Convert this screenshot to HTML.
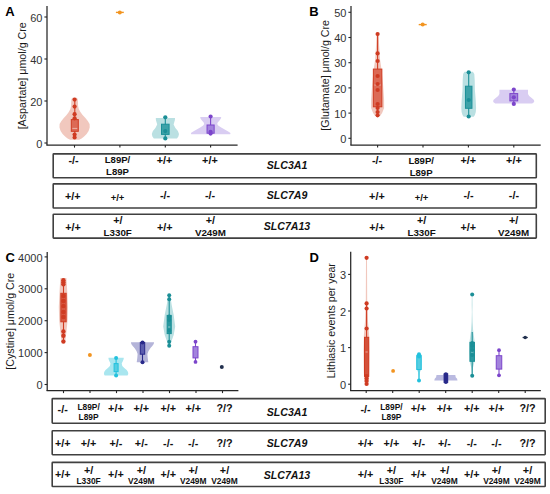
<!DOCTYPE html>
<html><head><meta charset="utf-8"><style>
html,body{margin:0;padding:0;background:#fff;width:550px;height:494px;overflow:hidden;position:relative;font-family:"Liberation Sans", sans-serif;}
</style></head><body>
<svg width="550" height="494" viewBox="0 0 550 494" style="position:absolute;left:0;top:0">
<g font-family='"Liberation Sans", sans-serif'>
<text x="5.2" y="15.8" font-size="13" font-weight="bold" fill="#000">A</text>
<line x1="47" y1="6" x2="47" y2="145.29999999999998" stroke="#262626" stroke-width="1.25"/>
<line x1="44.4" y1="143.0" x2="47" y2="143.0" stroke="#262626" stroke-width="1.1"/>
<text x="42.4" y="147.60" text-anchor="end" font-size="11" fill="#333333">0</text>
<line x1="44.4" y1="101.0" x2="47" y2="101.0" stroke="#262626" stroke-width="1.1"/>
<text x="42.4" y="105.60" text-anchor="end" font-size="11" fill="#333333">20</text>
<line x1="44.4" y1="59.0" x2="47" y2="59.0" stroke="#262626" stroke-width="1.1"/>
<text x="42.4" y="63.60" text-anchor="end" font-size="11" fill="#333333">40</text>
<line x1="44.4" y1="17.0" x2="47" y2="17.0" stroke="#262626" stroke-width="1.1"/>
<text x="42.4" y="21.60" text-anchor="end" font-size="11" fill="#333333">60</text>
<line x1="46.4" y1="145" x2="237.6" y2="145" stroke="#262626" stroke-width="1.25"/>
<line x1="74.5" y1="145" x2="74.5" y2="147.6" stroke="#262626" stroke-width="1.1"/>
<line x1="119.9" y1="145" x2="119.9" y2="147.6" stroke="#262626" stroke-width="1.1"/>
<line x1="165.3" y1="145" x2="165.3" y2="147.6" stroke="#262626" stroke-width="1.1"/>
<line x1="210.6" y1="145" x2="210.6" y2="147.6" stroke="#262626" stroke-width="1.1"/>
<text transform="translate(25.7,75.8) rotate(-90)" text-anchor="middle" font-size="10.7" fill="#1a1a1a">[Aspartate] μmol/g Cre</text>
<path d="M72.60,97.80 L71.50,99.00 L71.20,102.00 L71.10,106.00 L70.40,109.00 L68.80,112.00 L66.60,115.00 L63.80,118.00 L61.40,121.00 L59.60,124.00 L59.50,127.50 L60.60,131.00 L62.60,134.00 L65.10,136.50 L67.60,138.50 L70.10,139.80 L79.10,139.80 L81.60,138.50 L84.10,136.50 L86.60,134.00 L88.60,131.00 L89.70,127.50 L89.60,124.00 L87.80,121.00 L85.40,118.00 L82.60,115.00 L80.40,112.00 L78.80,109.00 L78.10,106.00 L78.00,102.00 L77.70,99.00 L76.60,97.80Z" fill="#f1c8be" fill-opacity="1.0"/>
<line x1="74.8" y1="99.6" x2="74.8" y2="137.5" stroke="#cf3b22" stroke-width="1.1"/>
<rect x="71.30" y="119.6" width="7.0" height="11.70" fill="#dc6a55" stroke="#cf3b22" stroke-width="1.0"/>
<line x1="72.30" y1="128.4" x2="77.30" y2="128.4" stroke="#ffffff" stroke-opacity="0.6" stroke-width="0.8"/>
<circle cx="74.6" cy="99.6" r="2.1" fill="#cf3b22"/>
<circle cx="74.6" cy="106.6" r="2.1" fill="#cf3b22"/>
<circle cx="74.6" cy="114.2" r="2.1" fill="#cf3b22"/>
<circle cx="74.6" cy="118.3" r="2.1" fill="#cf3b22"/>
<circle cx="74.6" cy="134.5" r="2.1" fill="#cf3b22"/>
<circle cx="74.6" cy="137.5" r="2.1" fill="#cf3b22"/>
<line x1="115.9" y1="12.4" x2="123.8" y2="12.4" stroke="#f29420" stroke-width="1.4"/>
<circle cx="119.8" cy="12.4" r="2.0" fill="#f29420"/>
<path d="M155.80,118.00 L155.90,120.00 L157.20,124.50 L155.40,128.00 L152.90,131.00 L151.80,134.00 L152.40,136.50 L153.80,138.40 L177.00,138.40 L178.40,136.50 L179.00,134.00 L177.90,131.00 L175.40,128.00 L173.60,124.50 L174.90,120.00 L175.00,118.00Z" fill="#bae0e2" fill-opacity="1.0"/>
<line x1="165.3" y1="117.3" x2="165.3" y2="138.4" stroke="#1b8f97" stroke-width="1.1"/>
<rect x="161.50" y="124.2" width="7.6" height="10.20" fill="#3ca2a8" stroke="#1b8f97" stroke-width="1.0"/>
<circle cx="165.3" cy="117.3" r="2.1" fill="#1b8f97"/>
<circle cx="165.3" cy="131.1" r="2.1" fill="#1b8f97"/>
<circle cx="165.3" cy="138.4" r="2.1" fill="#1b8f97"/>
<path d="M200.20,117.00 L200.50,118.50 L201.90,120.50 L203.70,122.50 L204.20,124.00 L203.20,125.50 L200.20,127.50 L196.70,129.50 L193.20,131.50 L190.90,133.00 L191.20,134.20 L230.20,134.20 L230.50,133.00 L228.20,131.50 L224.70,129.50 L221.20,127.50 L218.20,125.50 L217.20,124.00 L217.70,122.50 L219.50,120.50 L220.90,118.50 L221.20,117.00Z" fill="#d9cdf2" fill-opacity="1.0"/>
<line x1="210.6" y1="116.5" x2="210.6" y2="133.6" stroke="#7c45cb" stroke-width="1.1"/>
<rect x="207.05" y="125" width="7.1" height="8.20" fill="#a283dc" stroke="#7c45cb" stroke-width="1.0"/>
<circle cx="210.6" cy="116.5" r="2.1" fill="#7c45cb"/>
<circle cx="210.6" cy="131.8" r="2.1" fill="#7c45cb"/>
<circle cx="210.6" cy="133.6" r="2.1" fill="#7c45cb"/>
<text x="309.3" y="15.6" font-size="13" font-weight="bold" fill="#000">B</text>
<line x1="351" y1="6" x2="351" y2="145.29999999999998" stroke="#262626" stroke-width="1.25"/>
<line x1="348.4" y1="138.3" x2="351" y2="138.3" stroke="#262626" stroke-width="1.1"/>
<text x="346.4" y="142.90" text-anchor="end" font-size="11" fill="#333333">0</text>
<line x1="348.4" y1="113.10000000000001" x2="351" y2="113.10000000000001" stroke="#262626" stroke-width="1.1"/>
<text x="346.4" y="117.70" text-anchor="end" font-size="11" fill="#333333">10</text>
<line x1="348.4" y1="87.9" x2="351" y2="87.9" stroke="#262626" stroke-width="1.1"/>
<text x="346.4" y="92.50" text-anchor="end" font-size="11" fill="#333333">20</text>
<line x1="348.4" y1="62.70000000000002" x2="351" y2="62.70000000000002" stroke="#262626" stroke-width="1.1"/>
<text x="346.4" y="67.30" text-anchor="end" font-size="11" fill="#333333">30</text>
<line x1="348.4" y1="37.500000000000014" x2="351" y2="37.500000000000014" stroke="#262626" stroke-width="1.1"/>
<text x="346.4" y="42.10" text-anchor="end" font-size="11" fill="#333333">40</text>
<line x1="348.4" y1="12.300000000000011" x2="351" y2="12.300000000000011" stroke="#262626" stroke-width="1.1"/>
<text x="346.4" y="16.90" text-anchor="end" font-size="11" fill="#333333">50</text>
<line x1="350.4" y1="145" x2="540.7" y2="145" stroke="#262626" stroke-width="1.25"/>
<line x1="377.6" y1="145" x2="377.6" y2="147.6" stroke="#262626" stroke-width="1.1"/>
<line x1="423.0" y1="145" x2="423.0" y2="147.6" stroke="#262626" stroke-width="1.1"/>
<line x1="468.4" y1="145" x2="468.4" y2="147.6" stroke="#262626" stroke-width="1.1"/>
<line x1="513.8" y1="145" x2="513.8" y2="147.6" stroke="#262626" stroke-width="1.1"/>
<text transform="translate(329.4,75.3) rotate(-90)" text-anchor="middle" font-size="10.7" fill="#1a1a1a">[Glutamate] μmol/g Cre</text>
<path d="M376.60,34.00 L376.10,45.00 L375.10,60.00 L373.60,70.00 L372.10,85.00 L371.10,100.00 L371.10,108.00 L373.10,113.00 L375.10,116.00 L380.10,116.00 L382.10,113.00 L384.10,108.00 L384.10,100.00 L383.10,85.00 L381.60,70.00 L380.10,60.00 L379.10,45.00 L378.60,34.00Z" fill="#f1c8be" fill-opacity="1.0"/>
<line x1="377.6" y1="34" x2="377.6" y2="115.3" stroke="#cf3b22" stroke-width="1.1"/>
<rect x="373.35" y="69.1" width="8.5" height="37.70" fill="#dc6a55" stroke="#cf3b22" stroke-width="1.0"/>
<line x1="374.35" y1="85" x2="380.85" y2="85" stroke="#ffffff" stroke-opacity="0.6" stroke-width="0.8"/>
<circle cx="377.6" cy="34" r="2.1" fill="#cf3b22"/>
<circle cx="377.6" cy="53.4" r="2.1" fill="#cf3b22"/>
<circle cx="377.6" cy="61" r="2.1" fill="#cf3b22"/>
<circle cx="377.6" cy="76" r="2.1" fill="#cf3b22"/>
<circle cx="377.6" cy="84" r="2.1" fill="#cf3b22"/>
<circle cx="377.6" cy="90" r="2.1" fill="#cf3b22"/>
<circle cx="377.6" cy="104" r="2.1" fill="#cf3b22"/>
<circle cx="377.6" cy="108" r="2.1" fill="#cf3b22"/>
<circle cx="377.6" cy="112" r="2.1" fill="#cf3b22"/>
<circle cx="377.6" cy="115.3" r="2.1" fill="#cf3b22"/>
<line x1="418.7" y1="24.6" x2="426.7" y2="24.6" stroke="#f29420" stroke-width="1.4"/>
<circle cx="422.7" cy="24.6" r="2.0" fill="#f29420"/>
<path d="M464.50,71.80 L463.10,74.00 L462.70,80.00 L462.50,90.00 L461.70,100.00 L461.30,108.00 L461.60,112.00 L462.50,115.00 L463.70,116.80 L473.70,116.80 L474.90,115.00 L475.80,112.00 L476.10,108.00 L475.70,100.00 L474.90,90.00 L474.70,80.00 L474.30,74.00 L472.90,71.80Z" fill="#bae0e2" fill-opacity="1.0"/>
<line x1="468.7" y1="72.3" x2="468.7" y2="116.5" stroke="#1b8f97" stroke-width="1.1"/>
<rect x="465.45" y="86.2" width="6.5" height="22.10" fill="#3ca2a8" stroke="#1b8f97" stroke-width="1.0"/>
<circle cx="468.7" cy="72.3" r="2.1" fill="#1b8f97"/>
<circle cx="468.7" cy="100" r="2.1" fill="#1b8f97"/>
<circle cx="468.7" cy="116.5" r="2.1" fill="#1b8f97"/>
<path d="M499.40,89.80 L499.40,94.00 L498.20,96.00 L495.70,98.00 L493.40,100.00 L493.20,102.00 L495.20,103.60 L532.20,103.60 L534.20,102.00 L534.00,100.00 L531.70,98.00 L529.20,96.00 L528.00,94.00 L528.00,89.80Z" fill="#d9cdf2" fill-opacity="1.0"/>
<line x1="513.8" y1="89.5" x2="513.8" y2="103.9" stroke="#7c45cb" stroke-width="1.1"/>
<rect x="509.90" y="93.6" width="7.8" height="7.30" fill="#a283dc" stroke="#7c45cb" stroke-width="1.0"/>
<circle cx="513.8" cy="89.5" r="2.1" fill="#7c45cb"/>
<circle cx="513.8" cy="97.3" r="2.1" fill="#7c45cb"/>
<circle cx="513.8" cy="103.9" r="2.1" fill="#7c45cb"/>
<text x="5.5" y="261.5" font-size="13" font-weight="bold" fill="#000">C</text>
<line x1="47.2" y1="252" x2="47.2" y2="391.1" stroke="#262626" stroke-width="1.25"/>
<line x1="44.6" y1="384.5" x2="47.2" y2="384.5" stroke="#262626" stroke-width="1.1"/>
<text x="42.6" y="389.10" text-anchor="end" font-size="11" fill="#333333">0</text>
<line x1="44.6" y1="352.6" x2="47.2" y2="352.6" stroke="#262626" stroke-width="1.1"/>
<text x="42.6" y="357.20" text-anchor="end" font-size="11" fill="#333333">1000</text>
<line x1="44.6" y1="320.7" x2="47.2" y2="320.7" stroke="#262626" stroke-width="1.1"/>
<text x="42.6" y="325.30" text-anchor="end" font-size="11" fill="#333333">2000</text>
<line x1="44.6" y1="288.8" x2="47.2" y2="288.8" stroke="#262626" stroke-width="1.1"/>
<text x="42.6" y="293.40" text-anchor="end" font-size="11" fill="#333333">3000</text>
<line x1="44.6" y1="256.9" x2="47.2" y2="256.9" stroke="#262626" stroke-width="1.1"/>
<text x="42.6" y="261.50" text-anchor="end" font-size="11" fill="#333333">4000</text>
<line x1="46.6" y1="390.5" x2="238.4" y2="390.5" stroke="#262626" stroke-width="1.25"/>
<line x1="63.5" y1="390.5" x2="63.5" y2="393.1" stroke="#262626" stroke-width="1.1"/>
<line x1="90.0" y1="390.5" x2="90.0" y2="393.1" stroke="#262626" stroke-width="1.1"/>
<line x1="116.5" y1="390.5" x2="116.5" y2="393.1" stroke="#262626" stroke-width="1.1"/>
<line x1="143.0" y1="390.5" x2="143.0" y2="393.1" stroke="#262626" stroke-width="1.1"/>
<line x1="169.5" y1="390.5" x2="169.5" y2="393.1" stroke="#262626" stroke-width="1.1"/>
<line x1="196.0" y1="390.5" x2="196.0" y2="393.1" stroke="#262626" stroke-width="1.1"/>
<line x1="222.5" y1="390.5" x2="222.5" y2="393.1" stroke="#262626" stroke-width="1.1"/>
<text transform="translate(14.4,321.2) rotate(-90)" text-anchor="middle" font-size="10.7" fill="#1a1a1a">[Cystine] μmol/g Cre</text>
<path d="M60.40,278.00 L59.90,285.00 L59.40,295.00 L58.80,307.00 L59.20,320.00 L60.40,332.00 L61.40,340.00 L62.20,343.00 L64.60,343.00 L65.40,340.00 L66.40,332.00 L67.60,320.00 L68.00,307.00 L67.40,295.00 L66.90,285.00 L66.40,278.00Z" fill="#f1c8be" fill-opacity="1.0"/>
<line x1="63.5" y1="280" x2="63.5" y2="341.6" stroke="#cf3b22" stroke-width="1.1"/>
<rect x="60.85" y="293.3" width="5.3" height="28.50" fill="#d85a44" stroke="#cf3b22" stroke-width="1.0"/>
<line x1="61.85" y1="305" x2="65.15" y2="305" stroke="#ffffff" stroke-opacity="0.6" stroke-width="0.8"/>
<circle cx="63.4" cy="280.2" r="2.2" fill="#cf3b22"/>
<circle cx="63.4" cy="282.2" r="2.2" fill="#cf3b22"/>
<circle cx="63.4" cy="284.2" r="2.2" fill="#cf3b22"/>
<circle cx="63.4" cy="296" r="2.2" fill="#cf3b22"/>
<circle cx="63.4" cy="301" r="2.2" fill="#cf3b22"/>
<circle cx="63.4" cy="306" r="2.2" fill="#cf3b22"/>
<circle cx="63.4" cy="312" r="2.2" fill="#cf3b22"/>
<circle cx="63.4" cy="317" r="2.2" fill="#cf3b22"/>
<circle cx="63.4" cy="331.5" r="2.2" fill="#cf3b22"/>
<circle cx="63.4" cy="335.8" r="2.2" fill="#cf3b22"/>
<circle cx="63.4" cy="341.6" r="2.2" fill="#cf3b22"/>
<circle cx="89.9" cy="354.9" r="2.0" fill="#f29420"/>
<path d="M108.50,357.80 L108.50,359.00 L109.30,361.00 L110.50,363.60 L109.90,366.00 L107.90,368.00 L105.50,370.00 L104.20,372.00 L103.90,374.00 L104.70,375.60 L127.50,375.60 L128.30,374.00 L128.00,372.00 L126.70,370.00 L124.30,368.00 L122.30,366.00 L121.70,363.60 L122.90,361.00 L123.70,359.00 L123.70,357.80Z" fill="#a9e6ef" fill-opacity="1.0"/>
<line x1="116.1" y1="358.1" x2="116.1" y2="375.6" stroke="#22c1dd" stroke-width="1.1"/>
<rect x="114.10" y="363.6" width="4.0" height="8.00" fill="#55cde1" stroke="#22c1dd" stroke-width="1.0"/>
<circle cx="116.1" cy="358.1" r="2.0" fill="#22c1dd"/>
<circle cx="116.1" cy="375.6" r="2.0" fill="#22c1dd"/>
<path d="M130.90,342.30 L131.30,344.00 L132.70,346.00 L134.50,348.00 L136.50,351.00 L137.60,354.00 L137.30,358.00 L136.70,362.20 L148.30,362.20 L147.70,358.00 L147.40,354.00 L148.50,351.00 L150.50,348.00 L152.30,346.00 L153.70,344.00 L154.10,342.30Z" fill="#b4b4d9" fill-opacity="1.0"/>
<line x1="142.5" y1="342.4" x2="142.5" y2="362.2" stroke="#28298a" stroke-width="1.1"/>
<rect x="140.30" y="342.4" width="4.4" height="11.80" fill="#5b5cae" stroke="#28298a" stroke-width="1.0"/>
<circle cx="142.5" cy="342.4" r="2.0" fill="#28298a"/>
<circle cx="142.5" cy="362.2" r="2.0" fill="#28298a"/>
<path d="M168.20,295.20 L166.70,305.00 L164.70,315.00 L163.20,326.50 L164.70,335.00 L167.20,342.00 L168.20,346.00 L170.20,346.00 L171.20,342.00 L173.70,335.00 L175.20,326.50 L173.70,315.00 L171.70,305.00 L170.20,295.20Z" fill="#bae0e2" fill-opacity="1.0"/>
<line x1="169.2" y1="295.2" x2="169.2" y2="345.7" stroke="#1b8f97" stroke-width="1.1"/>
<rect x="167.15" y="315.4" width="4.1" height="18.20" fill="#2a989f" stroke="#1b8f97" stroke-width="1.0"/>
<line x1="168.15" y1="327" x2="170.25" y2="327" stroke="#ffffff" stroke-opacity="0.6" stroke-width="0.8"/>
<circle cx="169.2" cy="295.2" r="2.0" fill="#1b8f97"/>
<circle cx="169.2" cy="299.2" r="2.0" fill="#1b8f97"/>
<circle cx="169.2" cy="316.5" r="2.0" fill="#1b8f97"/>
<circle cx="169.2" cy="320" r="2.0" fill="#1b8f97"/>
<circle cx="169.2" cy="330.5" r="2.0" fill="#1b8f97"/>
<circle cx="169.2" cy="341.7" r="2.0" fill="#1b8f97"/>
<circle cx="169.2" cy="345.7" r="2.0" fill="#1b8f97"/>
<line x1="195.5" y1="341.7" x2="195.5" y2="361.9" stroke="#7c45cb" stroke-width="1.1"/>
<rect x="193.00" y="346.7" width="5.0" height="11.20" fill="#a283dc" stroke="#7c45cb" stroke-width="1.0"/>
<circle cx="195.5" cy="341.7" r="1.9" fill="#7c45cb"/>
<circle cx="195.5" cy="361.9" r="1.9" fill="#7c45cb"/>
<circle cx="221.8" cy="367" r="2.0" fill="#22304e"/>
<text x="309.6" y="261.8" font-size="13" font-weight="bold" fill="#000">D</text>
<line x1="350.7" y1="251.8" x2="350.7" y2="391.1" stroke="#262626" stroke-width="1.25"/>
<line x1="348.09999999999997" y1="384.2" x2="350.7" y2="384.2" stroke="#262626" stroke-width="1.1"/>
<text x="346.09999999999997" y="388.80" text-anchor="end" font-size="11" fill="#333333">0</text>
<line x1="348.09999999999997" y1="347.59999999999997" x2="350.7" y2="347.59999999999997" stroke="#262626" stroke-width="1.1"/>
<text x="346.09999999999997" y="352.20" text-anchor="end" font-size="11" fill="#333333">1</text>
<line x1="348.09999999999997" y1="311.0" x2="350.7" y2="311.0" stroke="#262626" stroke-width="1.1"/>
<text x="346.09999999999997" y="315.60" text-anchor="end" font-size="11" fill="#333333">2</text>
<line x1="348.09999999999997" y1="274.4" x2="350.7" y2="274.4" stroke="#262626" stroke-width="1.1"/>
<text x="346.09999999999997" y="279.00" text-anchor="end" font-size="11" fill="#333333">3</text>
<line x1="350.09999999999997" y1="390.5" x2="540.8" y2="390.5" stroke="#262626" stroke-width="1.25"/>
<line x1="366.2" y1="390.5" x2="366.2" y2="393.1" stroke="#262626" stroke-width="1.1"/>
<line x1="392.7" y1="390.5" x2="392.7" y2="393.1" stroke="#262626" stroke-width="1.1"/>
<line x1="419.2" y1="390.5" x2="419.2" y2="393.1" stroke="#262626" stroke-width="1.1"/>
<line x1="445.7" y1="390.5" x2="445.7" y2="393.1" stroke="#262626" stroke-width="1.1"/>
<line x1="472.2" y1="390.5" x2="472.2" y2="393.1" stroke="#262626" stroke-width="1.1"/>
<line x1="498.7" y1="390.5" x2="498.7" y2="393.1" stroke="#262626" stroke-width="1.1"/>
<line x1="525.2" y1="390.5" x2="525.2" y2="393.1" stroke="#262626" stroke-width="1.1"/>
<text transform="translate(335.2,320.7) rotate(-90)" text-anchor="middle" font-size="10.7" fill="#1a1a1a">Lithiasic events per year</text>
<path d="M366.00,258.00 L365.80,300.00 L365.10,320.00 L363.90,335.00 L363.50,350.00 L363.70,370.00 L364.10,380.00 L365.00,384.50 L368.00,384.50 L368.90,380.00 L369.30,370.00 L369.50,350.00 L369.10,335.00 L367.90,320.00 L367.20,300.00 L367.00,258.00Z" fill="#f1c8be" fill-opacity="1.0"/>
<line x1="366.6" y1="303.4" x2="366.6" y2="384" stroke="#cf3b22" stroke-width="1.1"/>
<rect x="364.50" y="337.3" width="4.2" height="39.10" fill="#d4513a" stroke="#cf3b22" stroke-width="1.0"/>
<line x1="365.50" y1="352" x2="367.70" y2="352" stroke="#ffffff" stroke-opacity="0.6" stroke-width="0.8"/>
<circle cx="366.6" cy="257.8" r="2.1" fill="#cf3b22"/>
<circle cx="366.6" cy="303.4" r="2.1" fill="#cf3b22"/>
<circle cx="366.6" cy="308.5" r="2.1" fill="#cf3b22"/>
<circle cx="366.6" cy="328.5" r="2.1" fill="#cf3b22"/>
<circle cx="366.6" cy="376" r="2.1" fill="#cf3b22"/>
<circle cx="366.6" cy="378.5" r="2.1" fill="#cf3b22"/>
<circle cx="366.6" cy="381" r="2.1" fill="#cf3b22"/>
<circle cx="366.6" cy="384" r="2.1" fill="#cf3b22"/>
<circle cx="393.1" cy="370.9" r="1.9" fill="#f29420"/>
<path d="M416.50,354.20 L416.10,360.00 L416.40,369.00 L418.00,372.00 L418.50,380.40 L419.50,380.40 L420.00,372.00 L421.60,369.00 L421.90,360.00 L421.50,354.20Z" fill="#a9e6ef" fill-opacity="1.0"/>
<line x1="419" y1="354.2" x2="419" y2="380.4" stroke="#22c1dd" stroke-width="1.1"/>
<rect x="416.80" y="355.6" width="4.4" height="13.90" fill="#55cde1" stroke="#22c1dd" stroke-width="1.0"/>
<circle cx="419" cy="354.2" r="2.0" fill="#22c1dd"/>
<circle cx="419" cy="356.5" r="2.0" fill="#22c1dd"/>
<circle cx="419" cy="380.4" r="2.0" fill="#22c1dd"/>
<path d="M436.50,374.90 L436.10,377.20 L434.70,378.80 L434.30,380.60 L457.50,380.60 L457.10,378.80 L455.70,377.20 L455.30,374.90Z" fill="#babae0" fill-opacity="1.0"/>
<line x1="445.9" y1="373.8" x2="445.9" y2="382.4" stroke="#28298a" stroke-width="1.1"/>
<rect x="444.10" y="373.8" width="3.6" height="8.60" fill="#5b5cae" stroke="#28298a" stroke-width="1.0"/>
<circle cx="445.9" cy="374.3" r="2.0" fill="#28298a"/>
<circle cx="445.9" cy="376" r="2.0" fill="#28298a"/>
<circle cx="445.9" cy="378" r="2.0" fill="#28298a"/>
<circle cx="445.9" cy="380" r="2.0" fill="#28298a"/>
<circle cx="445.9" cy="381.9" r="2.0" fill="#28298a"/>
<path d="M471.80,296.00 L471.70,305.00 L471.85,312.00 L471.60,322.00 L471.10,330.00 L470.30,336.00 L469.50,342.00 L469.30,352.00 L469.80,362.00 L471.30,368.00 L471.80,375.80 L472.40,375.80 L472.90,368.00 L474.40,362.00 L474.90,352.00 L474.70,342.00 L473.90,336.00 L473.10,330.00 L472.60,322.00 L472.35,312.00 L472.50,305.00 L472.40,296.00Z" fill="#bae0e2" fill-opacity="1.0"/>
<line x1="472.2" y1="332" x2="472.2" y2="375.8" stroke="#1b8f97" stroke-width="1.1"/>
<rect x="469.95" y="342.4" width="4.5" height="18.90" fill="#2b9aa1" stroke="#1b8f97" stroke-width="1.0"/>
<line x1="470.95" y1="352" x2="473.45" y2="352" stroke="#ffffff" stroke-opacity="0.6" stroke-width="0.8"/>
<circle cx="472.2" cy="294.5" r="2.0" fill="#1b8f97"/>
<circle cx="472.2" cy="343" r="2.0" fill="#1b8f97"/>
<circle cx="472.2" cy="346" r="2.0" fill="#1b8f97"/>
<circle cx="472.2" cy="350" r="2.0" fill="#1b8f97"/>
<circle cx="472.2" cy="355" r="2.0" fill="#1b8f97"/>
<circle cx="472.2" cy="375.8" r="2.0" fill="#1b8f97"/>
<line x1="499" y1="350.2" x2="499" y2="375.3" stroke="#7c45cb" stroke-width="1.1"/>
<rect x="496.25" y="355.7" width="5.5" height="13.40" fill="#a283dc" stroke="#7c45cb" stroke-width="1.0"/>
<circle cx="499" cy="350.2" r="1.9" fill="#7c45cb"/>
<circle cx="499" cy="375.3" r="1.9" fill="#7c45cb"/>
<line x1="522.6" y1="337.5" x2="527.8" y2="337.5" stroke="#22304e" stroke-width="1.2"/>
<circle cx="525.2" cy="337.5" r="1.8" fill="#22304e"/>
<rect x="53.2" y="153.9" width="483.09999999999997" height="23.900000000000006" fill="none" stroke="#404040" stroke-width="1.6" rx="0.6"/>
<rect x="53.2" y="183.9" width="483.09999999999997" height="24.099999999999994" fill="none" stroke="#404040" stroke-width="1.6" rx="0.6"/>
<rect x="53.2" y="214.2" width="483.09999999999997" height="23.900000000000006" fill="none" stroke="#404040" stroke-width="1.6" rx="0.6"/>
<rect x="52.2" y="398.6" width="493.00000000000006" height="24.599999999999966" fill="none" stroke="#404040" stroke-width="1.6" rx="0.6"/>
<rect x="52.2" y="430.8" width="493.00000000000006" height="23.899999999999977" fill="none" stroke="#404040" stroke-width="1.6" rx="0.6"/>
<rect x="52.2" y="462.4" width="493.00000000000006" height="24.100000000000023" fill="none" stroke="#404040" stroke-width="1.6" rx="0.6"/>
<text x="287" y="169.2" text-anchor="middle" font-size="10.6" font-weight="bold" font-style="italic" fill="#111">SLC3A1</text>
<text x="287" y="199.4" text-anchor="middle" font-size="10.6" font-weight="bold" font-style="italic" fill="#111">SLC7A9</text>
<text x="287" y="229.6" text-anchor="middle" font-size="10.6" font-weight="bold" font-style="italic" fill="#111">SLC7A13</text>
<text x="287" y="415.6" text-anchor="middle" font-size="10.6" font-weight="bold" font-style="italic" fill="#111">SLC3A1</text>
<text x="287" y="447.2" text-anchor="middle" font-size="10.6" font-weight="bold" font-style="italic" fill="#111">SLC7A9</text>
<text x="287" y="479.1" text-anchor="middle" font-size="10.6" font-weight="bold" font-style="italic" fill="#111">SLC7A13</text>
<text x="73.5" y="163.5" text-anchor="middle" font-size="10.8" font-weight="bold" font-style="normal" fill="#111">-/-</text>
<text x="117.5" y="162.8" text-anchor="middle" font-size="9.6" font-weight="bold" font-style="normal" fill="#111">L89P/</text>
<text x="117.5" y="175.1" text-anchor="middle" font-size="9.6" font-weight="bold" font-style="normal" fill="#111">L89P</text>
<text x="164.5" y="164.2" text-anchor="middle" font-size="10.8" font-weight="bold" font-style="normal" fill="#111">+/+</text>
<text x="209.9" y="164.2" text-anchor="middle" font-size="10.8" font-weight="bold" font-style="normal" fill="#111">+/+</text>
<text x="72.7" y="199.5" text-anchor="middle" font-size="10.8" font-weight="bold" font-style="normal" fill="#111">+/+</text>
<text x="117.5" y="200.8" text-anchor="middle" font-size="9.5" font-weight="bold" font-style="normal" fill="#111">+/+</text>
<text x="165" y="198.6" text-anchor="middle" font-size="10.8" font-weight="bold" font-style="normal" fill="#111">-/-</text>
<text x="210" y="198.6" text-anchor="middle" font-size="10.8" font-weight="bold" font-style="normal" fill="#111">-/-</text>
<text x="73.1" y="230.8" text-anchor="middle" font-size="10.8" font-weight="bold" font-style="normal" fill="#111">+/+</text>
<text x="117.9" y="224.4" text-anchor="middle" font-size="10.8" font-weight="bold" font-style="normal" fill="#111">+/</text>
<text x="117.7" y="236.2" text-anchor="middle" font-size="9.8" font-weight="bold" font-style="normal" fill="#111">L330F</text>
<text x="164.7" y="230.8" text-anchor="middle" font-size="10.8" font-weight="bold" font-style="normal" fill="#111">+/+</text>
<text x="210.4" y="224.4" text-anchor="middle" font-size="10.8" font-weight="bold" font-style="normal" fill="#111">+/</text>
<text x="210.4" y="236.2" text-anchor="middle" font-size="9.8" font-weight="bold" font-style="normal" fill="#111">V249M</text>
<text x="377" y="163.8" text-anchor="middle" font-size="10.8" font-weight="bold" font-style="normal" fill="#111">-/-</text>
<text x="421.2" y="163.8" text-anchor="middle" font-size="9.6" font-weight="bold" font-style="normal" fill="#111">L89P/</text>
<text x="421.1" y="175.5" text-anchor="middle" font-size="9.6" font-weight="bold" font-style="normal" fill="#111">L89P</text>
<text x="468.3" y="164.2" text-anchor="middle" font-size="10.8" font-weight="bold" font-style="normal" fill="#111">+/+</text>
<text x="513.9" y="164.2" text-anchor="middle" font-size="10.8" font-weight="bold" font-style="normal" fill="#111">+/+</text>
<text x="376.9" y="199.5" text-anchor="middle" font-size="10.8" font-weight="bold" font-style="normal" fill="#111">+/+</text>
<text x="421.5" y="200.8" text-anchor="middle" font-size="9.5" font-weight="bold" font-style="normal" fill="#111">+/+</text>
<text x="468.5" y="198.6" text-anchor="middle" font-size="10.8" font-weight="bold" font-style="normal" fill="#111">-/-</text>
<text x="513.9" y="198.6" text-anchor="middle" font-size="10.8" font-weight="bold" font-style="normal" fill="#111">-/-</text>
<text x="377" y="230.8" text-anchor="middle" font-size="10.8" font-weight="bold" font-style="normal" fill="#111">+/+</text>
<text x="421.6" y="224.4" text-anchor="middle" font-size="10.8" font-weight="bold" font-style="normal" fill="#111">+/</text>
<text x="421.6" y="236.2" text-anchor="middle" font-size="9.8" font-weight="bold" font-style="normal" fill="#111">L330F</text>
<text x="468.3" y="230.8" text-anchor="middle" font-size="10.8" font-weight="bold" font-style="normal" fill="#111">+/+</text>
<text x="513.6" y="224.4" text-anchor="middle" font-size="10.8" font-weight="bold" font-style="normal" fill="#111">+/</text>
<text x="513.6" y="236.2" text-anchor="middle" font-size="9.8" font-weight="bold" font-style="normal" fill="#111">V249M</text>
<text x="62.7" y="412.8" text-anchor="middle" font-size="10.8" font-weight="bold" font-style="normal" fill="#111">-/-</text>
<text x="88.6" y="409.9" text-anchor="middle" font-size="8.4" font-weight="bold" font-style="normal" fill="#111">L89P/</text>
<text x="88.6" y="420.1" text-anchor="middle" font-size="8.4" font-weight="bold" font-style="normal" fill="#111">L89P</text>
<text x="115.9" y="412.2" text-anchor="middle" font-size="10.8" font-weight="bold" font-style="normal" fill="#111">+/+</text>
<text x="141.3" y="412.2" text-anchor="middle" font-size="10.8" font-weight="bold" font-style="normal" fill="#111">+/+</text>
<text x="168.2" y="412.2" text-anchor="middle" font-size="10.8" font-weight="bold" font-style="normal" fill="#111">+/+</text>
<text x="193.2" y="412.2" text-anchor="middle" font-size="10.8" font-weight="bold" font-style="normal" fill="#111">+/+</text>
<text x="224.5" y="412.3" text-anchor="middle" font-size="10.8" font-weight="bold" font-style="normal" fill="#111">?/?</text>
<text x="62.7" y="446.6" text-anchor="middle" font-size="10.8" font-weight="bold" font-style="normal" fill="#111">+/+</text>
<text x="88.6" y="446.6" text-anchor="middle" font-size="10.8" font-weight="bold" font-style="normal" fill="#111">+/+</text>
<text x="115.9" y="446.6" text-anchor="middle" font-size="10.8" font-weight="bold" font-style="normal" fill="#111">+/-</text>
<text x="141.3" y="446.6" text-anchor="middle" font-size="10.8" font-weight="bold" font-style="normal" fill="#111">+/-</text>
<text x="168.2" y="446.6" text-anchor="middle" font-size="10.8" font-weight="bold" font-style="normal" fill="#111">-/-</text>
<text x="193.2" y="446.6" text-anchor="middle" font-size="10.8" font-weight="bold" font-style="normal" fill="#111">-/-</text>
<text x="224.5" y="446.6" text-anchor="middle" font-size="10.8" font-weight="bold" font-style="normal" fill="#111">?/?</text>
<text x="62.7" y="477.8" text-anchor="middle" font-size="10.8" font-weight="bold" font-style="normal" fill="#111">+/+</text>
<text x="88.6" y="473.5" text-anchor="middle" font-size="10.8" font-weight="bold" font-style="normal" fill="#111">+/</text>
<text x="88.6" y="483.5" text-anchor="middle" font-size="8.4" font-weight="bold" font-style="normal" fill="#111">L330F</text>
<text x="115.9" y="477.8" text-anchor="middle" font-size="10.8" font-weight="bold" font-style="normal" fill="#111">+/+</text>
<text x="141.3" y="473.5" text-anchor="middle" font-size="10.8" font-weight="bold" font-style="normal" fill="#111">+/</text>
<text x="141.3" y="483.5" text-anchor="middle" font-size="8.4" font-weight="bold" font-style="normal" fill="#111">V249M</text>
<text x="168.2" y="477.8" text-anchor="middle" font-size="10.8" font-weight="bold" font-style="normal" fill="#111">+/+</text>
<text x="193.2" y="473.5" text-anchor="middle" font-size="10.8" font-weight="bold" font-style="normal" fill="#111">+/</text>
<text x="193.2" y="483.5" text-anchor="middle" font-size="8.4" font-weight="bold" font-style="normal" fill="#111">V249M</text>
<text x="224.5" y="473.5" text-anchor="middle" font-size="10.8" font-weight="bold" font-style="normal" fill="#111">+/</text>
<text x="224.5" y="483.5" text-anchor="middle" font-size="8.4" font-weight="bold" font-style="normal" fill="#111">V249M</text>
<text x="365.6" y="412.8" text-anchor="middle" font-size="10.8" font-weight="bold" font-style="normal" fill="#111">-/-</text>
<text x="391.4" y="409.9" text-anchor="middle" font-size="8.4" font-weight="bold" font-style="normal" fill="#111">L89P/</text>
<text x="391.4" y="420.1" text-anchor="middle" font-size="8.4" font-weight="bold" font-style="normal" fill="#111">L89P</text>
<text x="418.6" y="412.2" text-anchor="middle" font-size="10.8" font-weight="bold" font-style="normal" fill="#111">+/+</text>
<text x="444.5" y="412.2" text-anchor="middle" font-size="10.8" font-weight="bold" font-style="normal" fill="#111">+/+</text>
<text x="471.8" y="412.2" text-anchor="middle" font-size="10.8" font-weight="bold" font-style="normal" fill="#111">+/+</text>
<text x="496.4" y="412.2" text-anchor="middle" font-size="10.8" font-weight="bold" font-style="normal" fill="#111">+/+</text>
<text x="527.5" y="412.3" text-anchor="middle" font-size="10.8" font-weight="bold" font-style="normal" fill="#111">?/?</text>
<text x="365.6" y="446.6" text-anchor="middle" font-size="10.8" font-weight="bold" font-style="normal" fill="#111">+/+</text>
<text x="391.4" y="446.6" text-anchor="middle" font-size="10.8" font-weight="bold" font-style="normal" fill="#111">+/+</text>
<text x="418.6" y="446.6" text-anchor="middle" font-size="10.8" font-weight="bold" font-style="normal" fill="#111">+/-</text>
<text x="444.5" y="446.6" text-anchor="middle" font-size="10.8" font-weight="bold" font-style="normal" fill="#111">+/-</text>
<text x="471.8" y="446.6" text-anchor="middle" font-size="10.8" font-weight="bold" font-style="normal" fill="#111">-/-</text>
<text x="496.4" y="446.6" text-anchor="middle" font-size="10.8" font-weight="bold" font-style="normal" fill="#111">-/-</text>
<text x="527.5" y="446.6" text-anchor="middle" font-size="10.8" font-weight="bold" font-style="normal" fill="#111">?/?</text>
<text x="365.6" y="477.8" text-anchor="middle" font-size="10.8" font-weight="bold" font-style="normal" fill="#111">+/+</text>
<text x="391.4" y="473.5" text-anchor="middle" font-size="10.8" font-weight="bold" font-style="normal" fill="#111">+/</text>
<text x="391.4" y="483.5" text-anchor="middle" font-size="8.4" font-weight="bold" font-style="normal" fill="#111">L330F</text>
<text x="418.6" y="477.8" text-anchor="middle" font-size="10.8" font-weight="bold" font-style="normal" fill="#111">+/+</text>
<text x="444.5" y="473.5" text-anchor="middle" font-size="10.8" font-weight="bold" font-style="normal" fill="#111">+/</text>
<text x="444.5" y="483.5" text-anchor="middle" font-size="8.4" font-weight="bold" font-style="normal" fill="#111">V249M</text>
<text x="471.8" y="477.8" text-anchor="middle" font-size="10.8" font-weight="bold" font-style="normal" fill="#111">+/+</text>
<text x="496.4" y="473.5" text-anchor="middle" font-size="10.8" font-weight="bold" font-style="normal" fill="#111">+/</text>
<text x="496.4" y="483.5" text-anchor="middle" font-size="8.4" font-weight="bold" font-style="normal" fill="#111">V249M</text>
<text x="527.5" y="473.5" text-anchor="middle" font-size="10.8" font-weight="bold" font-style="normal" fill="#111">+/</text>
<text x="527.5" y="483.5" text-anchor="middle" font-size="8.4" font-weight="bold" font-style="normal" fill="#111">V249M</text>
</g></svg>
</body></html>
